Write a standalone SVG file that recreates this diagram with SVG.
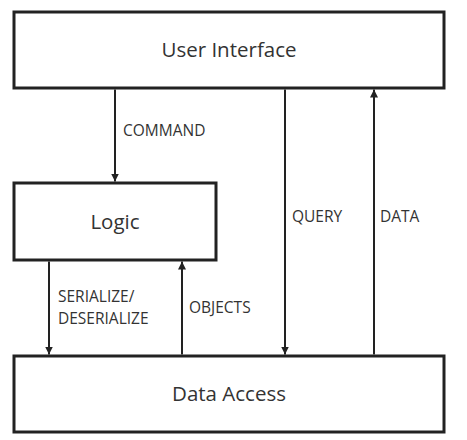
<svg xmlns="http://www.w3.org/2000/svg" width="467" height="440" viewBox="0 0 467 440">
<defs>
<marker id="ah" viewBox="0 0 10 10" refX="10" refY="5" markerWidth="8" markerHeight="8" markerUnits="userSpaceOnUse" orient="auto">
<path d="M0,0 L10,5 L0,10 Z" fill="#222"/>
</marker>
<style>
.box{fill:#fff;stroke:#222;stroke-width:3}
.title{font-family:"Open Sans","Noto Sans",sans-serif;font-size:20.5px;fill:#333;text-anchor:middle}
.lbl{font-family:"Open Sans","Noto Sans",sans-serif;font-size:15.5px;fill:#333}
.conn{stroke:#222;stroke-width:2;fill:none;marker-end:url(#ah)}
</style>
</defs>
<rect width="467" height="440" fill="#fff"/>
<g id="ui">
<rect class="box" x="14" y="12" width="430" height="76"/>
<text class="title" x="229" y="57">User Interface</text>
</g>
<g id="logic">
<rect class="box" x="14" y="183" width="202" height="77"/>
<text class="title" x="115" y="229">Logic</text>
</g>
<g id="data-access">
<rect class="box" x="14" y="356" width="430" height="76"/>
<text class="title" x="229" y="401">Data Access</text>
</g>
<g id="connectors">
<line class="conn" x1="115" y1="89.5" x2="115" y2="181.5"/>
<line class="conn" x1="285" y1="89.5" x2="285" y2="354.5"/>
<line class="conn" x1="374" y1="354.5" x2="374" y2="89.5"/>
<line class="conn" x1="49" y1="261.5" x2="49" y2="354.5"/>
<line class="conn" x1="182" y1="354.5" x2="182" y2="261.5"/>
<text class="lbl" x="123" y="136">COMMAND</text>
<text class="lbl" x="292" y="222">QUERY</text>
<text class="lbl" x="380" y="222">DATA</text>
<text class="lbl" x="58" y="302">SERIALIZE/</text>
<text class="lbl" x="58" y="324">DESERIALIZE</text>
<text class="lbl" x="189" y="313">OBJECTS</text>
</g>
</svg>
